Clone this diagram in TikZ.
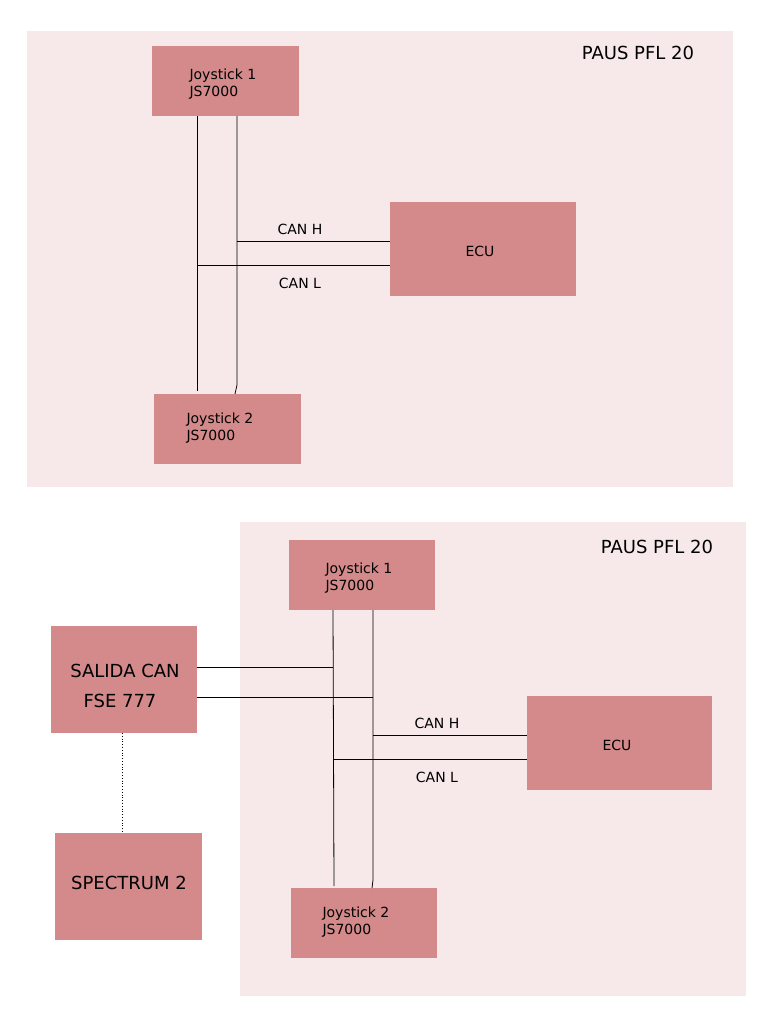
\documentclass[tikz,border=0pt]{standalone}
\usepackage{fontspec}
\setmainfont{DejaVu Sans}
\begin{document}
\begin{tikzpicture}[x=1pt,y=-1pt,
  panel/.style={fill=bgp,draw=none},
  box/.style={fill=boxc,draw=none},
  wire/.style={draw=black,line width=0.8pt},
  sm/.style={font=\fontsize{14}{17}\selectfont},
  big/.style={font=\fontsize{18}{22}\selectfont}]
\definecolor{bgp}{HTML}{F7E9E9}
\definecolor{boxc}{HTML}{D48A8A}
\useasboundingbox (0,0) rectangle (768,1024);
% top panel
\fill[panel] (27,31) rectangle (733,487);
\node[big] (p1) at (638,53) {PAUS PFL 20};
\fill[box] (152,46) rectangle (299,116); \coordinate (j1) at (152,46);
\node[sm,align=left,anchor=west] (j1t) at (186,84) {Joystick 1\\JS7000};
\fill[box] (390,202) rectangle (576,296);
\node[sm] (ecu1) at (480,251) {ECU};
\fill[box] (154,394) rectangle (301,464);
\node[sm,align=left,anchor=west] (j2t) at (183,428) {Joystick 2\\JS7000};
\coordinate (a1) at (197,116); \coordinate (a2) at (197,391);
\coordinate (b1) at (237,116); \coordinate (b2) at (235,394);
\coordinate (h1) at (237,241); \coordinate (h2) at (390,241);
\coordinate (l1) at (197,265); \coordinate (l2) at (390,265);
\draw[wire] (a1) -- (a2); \draw[wire] (b1) -- (237,385) -- (b2);
\draw[wire] (h1) -- (h2); \draw[wire] (l1) -- (l2);
\node[sm] (ch1) at (300,229) {CAN H};
\node[sm] (cl1) at (300,283) {CAN L};
% bottom panel
\fill[panel] (240,522) rectangle (746,996);
\node[big] (p2) at (657,547) {PAUS PFL 20};
\fill[box] (289,540) rectangle (435,610);
\node[sm,align=left,anchor=west] (j3t) at (322,578) {Joystick 1\\JS7000};
\fill[box] (527,696) rectangle (712,790);
\node[sm] (ecu2) at (617,745) {ECU};
\fill[box] (291,888) rectangle (437,958);
\node[sm,align=left,anchor=west] (j4t) at (319,922) {Joystick 2\\JS7000};
\fill[box] (51,626) rectangle (197,733);
\node[big] (s1) at (125,671) {SALIDA CAN};
\node[big] (s2) at (120,701) {FSE 777};
\fill[box] (55,833) rectangle (202,940);
\node[big] (sp) at (129,883) {SPECTRUM 2};
\coordinate (c1) at (333,610); \coordinate (c2) at (334,886);
\coordinate (d1) at (373,610); \coordinate (d2) at (372,888);
\draw[wire] (c1) -- (c2); \draw[wire] (d1) -- (373,880) -- (d2);
\draw[wire] (373,735) -- (527,735);
\draw[wire] (333,759) -- (527,759);
\draw[wire] (197,667) -- (333,667);
\draw[wire] (197,697) -- (373,697);
\draw[black,dotted,line width=0.8pt] (122,733) -- (122,833);
\node[sm] (ch2) at (437,723) {CAN H};
\node[sm] (cl2) at (437,777) {CAN L};
\end{tikzpicture}
\end{document}
